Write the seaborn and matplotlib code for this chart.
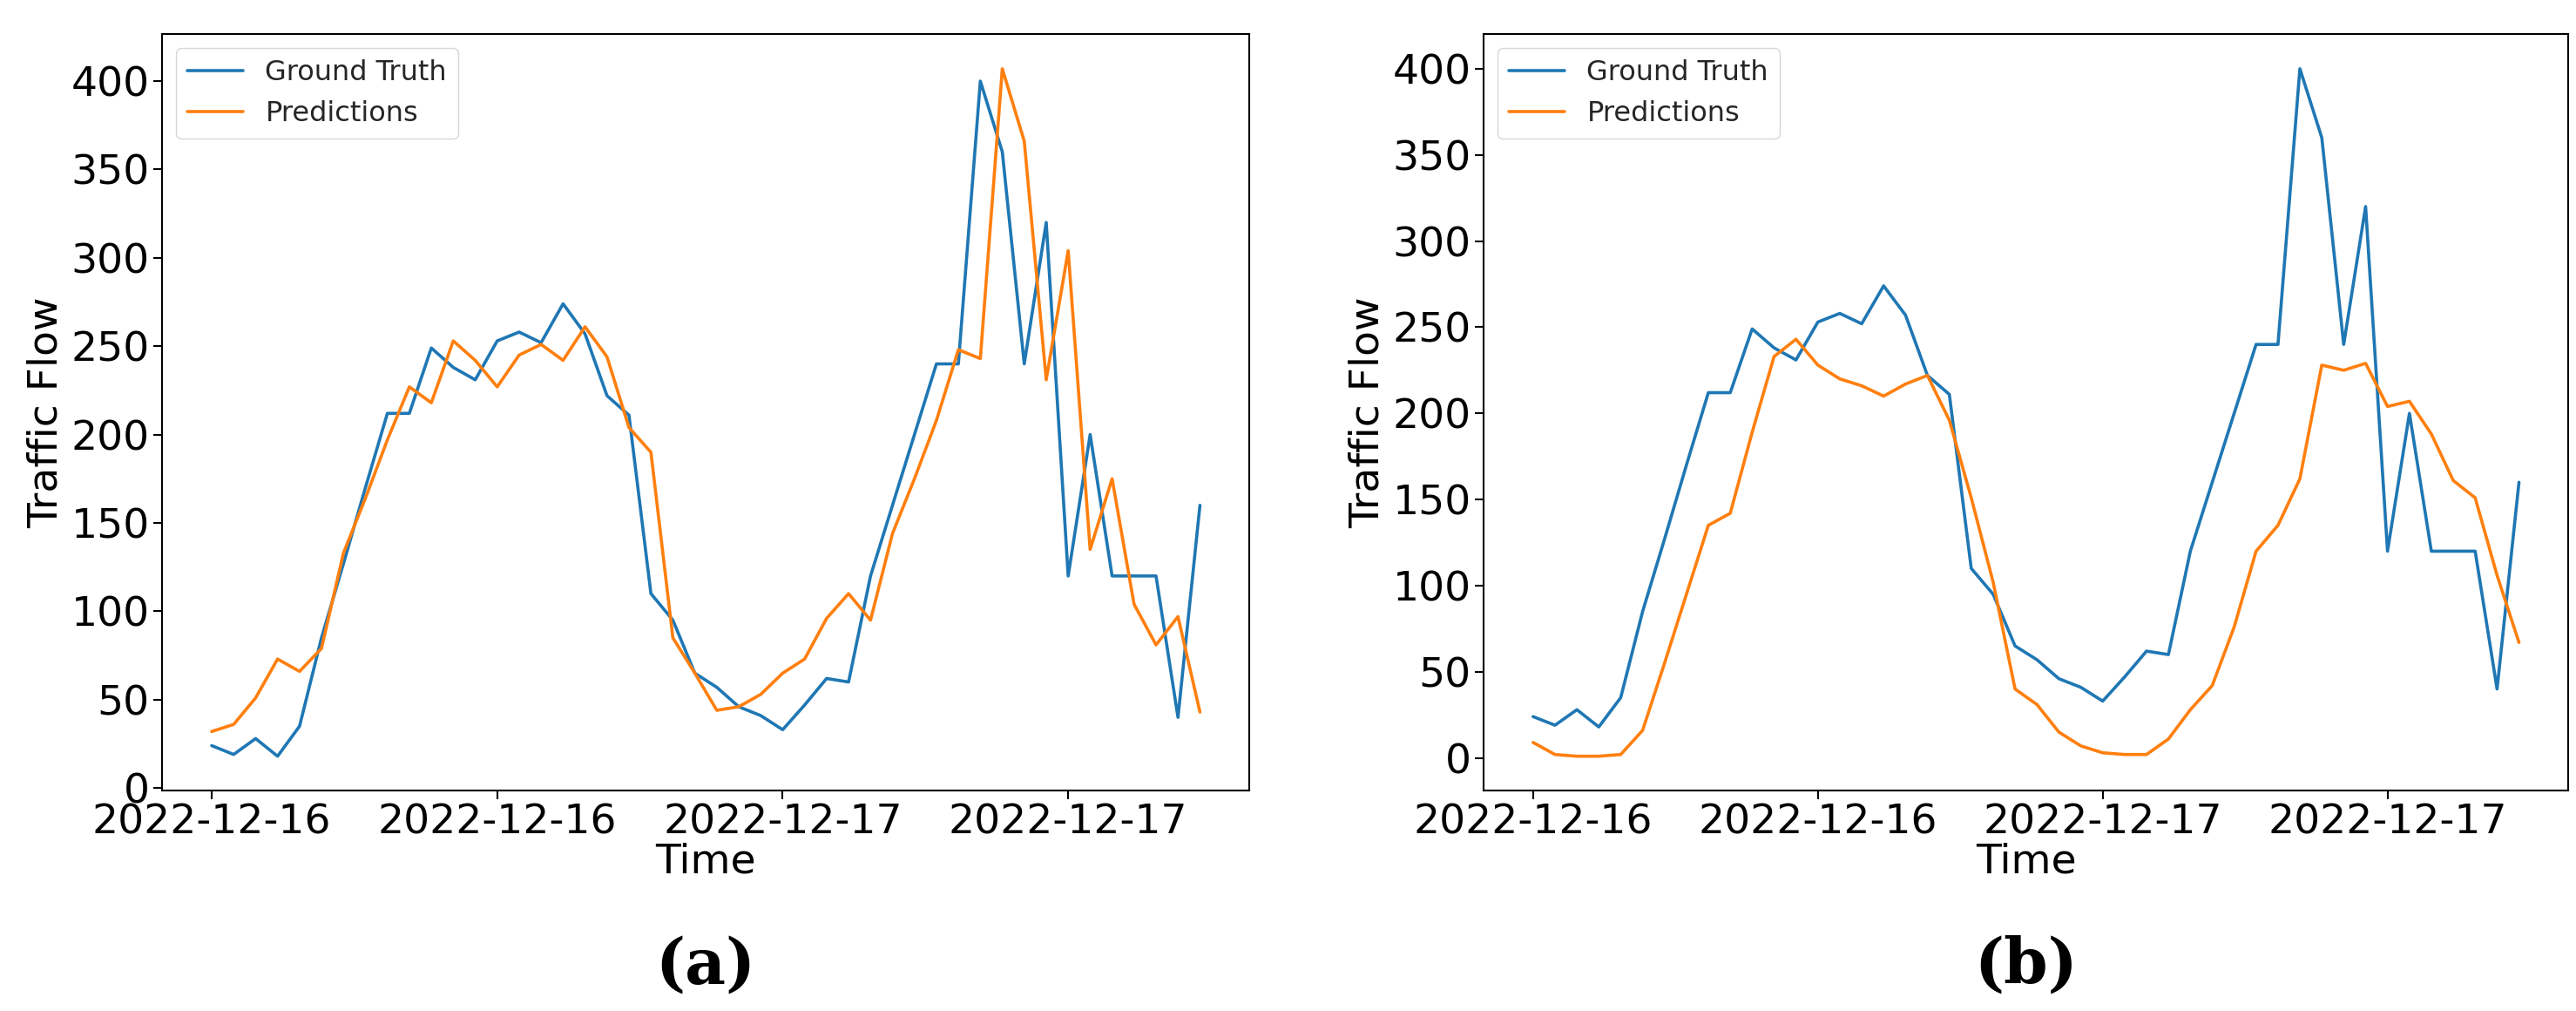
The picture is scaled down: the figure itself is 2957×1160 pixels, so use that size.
import matplotlib
matplotlib.use("Agg")
import matplotlib.pyplot as plt
import seaborn as sns
import numpy as np
import pandas as pd

ground_truth = [24, 19, 28, 18, 35, 85, 127, 170, 212, 212, 249, 238, 231, 253, 258, 252, 274, 257, 222, 211,
                110, 95, 65, 57, 46, 41, 33, 47, 62, 60, 120, 160, 200, 240, 240, 400, 360, 240, 320, 120,
                200, 120, 120, 120, 40, 160]
pred_a = [32, 36, 51, 73, 66, 79, 133, 164, 197, 227, 218, 253, 242, 227, 245, 251, 242, 261, 244, 204,
          190, 85, 65, 44, 46, 53, 65, 73, 96, 110, 95, 144, 175, 208, 248, 243, 407, 366, 231, 304,
          135, 175, 104, 81, 97, 43]
pred_b = [9, 2, 1, 1, 2, 16, 55, 95, 135, 142, 189, 233, 243, 228, 220, 216, 210, 217, 222, 196,
          151, 102, 40, 31, 15, 7, 3, 2, 2, 11, 28, 42, 76, 120, 135, 162, 228, 225, 229, 204,
          207, 188, 161, 151, 106, 67]
tick_positions = [0, 13, 26, 39]
tick_labels = ["2022-12-16", "2022-12-16", "2022-12-17", "2022-12-17"]
panel_labels = ["(a)", "(b)"]

sns.set_theme(style="white")
plt.rcParams['font.family'] = ['DejaVu Sans']

fig = plt.figure(figsize=(29.57, 11.6), dpi=100)
axes = [fig.add_axes([0.063, 0.218, 0.422, 0.748]),
        fig.add_axes([0.576, 0.218, 0.421, 0.748])]
blue, orange = "#1f77b4", "#ff7f0e"
t = np.arange(len(ground_truth))
for ax, pred, lab in zip(axes, [pred_a, pred_b], panel_labels):
    df = pd.DataFrame({"Time": t, "gt": ground_truth, "pred": pred})
    sns.lineplot(data=df, x="Time", y="gt", ax=ax, color=blue, lw=2.6, label="Ground Truth")
    sns.lineplot(data=df, x="Time", y="pred", ax=ax, color=orange, lw=2.6, label="Predictions")
    ax.set_xticks(tick_positions)
    ax.set_xticklabels(tick_labels)
    ax.set_yticks(range(0, 401, 50))
    ax.tick_params(labelsize=34, length=7, width=1.5, bottom=True, left=True, colors="black")
    ax.set_xlabel("Time", fontsize=34, labelpad=0, color="black")
    ax.set_ylabel("Traffic Flow", fontsize=34, color="black")
    for s in ax.spines.values():
        s.set_color("black")
        s.set_linewidth(1.5)
    ax.legend(loc="upper left", fontsize=23, frameon=True, handlelength=2)
    pos = ax.get_position()
    fig.text((pos.x0 + pos.x1) / 2, 0.045, lab, ha="center", va="center", color="black",
             fontsize=52, fontweight="bold", family="DejaVu Serif")

fig.savefig("out.png", dpi=100)
